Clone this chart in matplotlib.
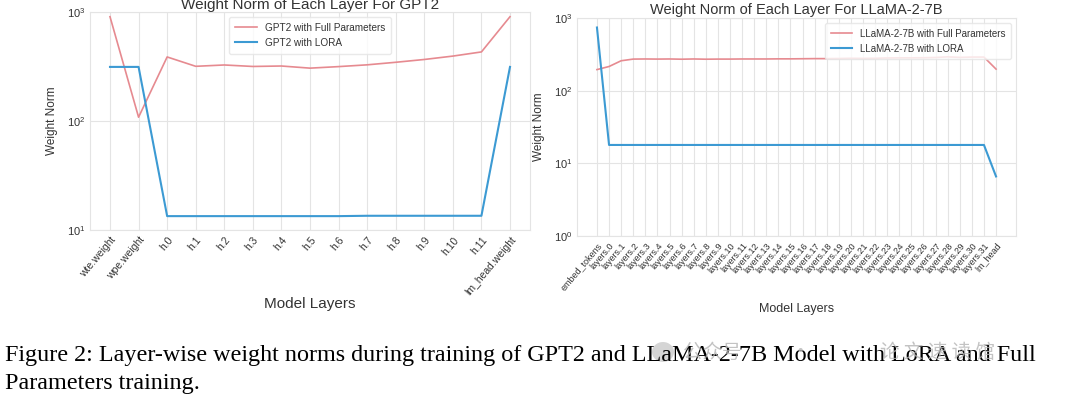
import matplotlib
matplotlib.use("Agg")
import matplotlib.pyplot as plt
from matplotlib.patches import Ellipse

# ---------------- data ----------------
gpt2_layers = ["wte.weight", "wpe.weight", "h.0", "h.1", "h.2", "h.3", "h.4", "h.5",
               "h.6", "h.7", "h.8", "h.9", "h.10", "h.11", "lm_head.weight"]
gpt2_full = [900, 108, 385, 316, 325, 315, 318, 304, 314, 326, 344, 365, 392, 428, 900]
gpt2_lora = [312, 312, 13.4, 13.4, 13.4, 13.4, 13.4, 13.4, 13.4, 13.5, 13.5, 13.5, 13.5, 13.5, 312]

llama_layers = ["embed_tokens"] + [f"layers.{i}" for i in range(32)] + ["lm_head"]
llama_full = [195, 215, 258, 272, 273, 272, 273, 271, 273, 271, 272, 272, 273, 273,
              273, 274, 274, 275, 276, 276, 277, 279, 278, 279, 282, 283, 283, 284,
              286, 292, 287, 290, 290, 198]
llama_lora = [740] + [17.9] * 32 + [6.6]

caption_lines = [
    "Figure 2: Layer-wise weight norms during training of GPT2 and LLaMA-2-7B Model with LoRA and Full",
    "Parameters training.",
]

RED = "#e68a90"
BLUE = "#3c9ad3"
GRID = "#e4e4e4"
TXT = "#333333"

plt.rcParams["font.family"] = ["Liberation Sans", "DejaVu Sans"]
plt.rcParams["mathtext.fontset"] = "custom"
plt.rcParams["mathtext.rm"] = "Liberation Sans"

fig = plt.figure(figsize=(10.74, 3.97), dpi=100)


def style(ax):
    ax.set_facecolor("white")
    for s in ax.spines.values():
        s.set_color(GRID)
        s.set_linewidth(0.8)
    ax.grid(True, which="major", color=GRID, linewidth=0.8)
    ax.grid(False, which="minor")
    ax.tick_params(which="both", length=0, colors=TXT)
    ax.set_axisbelow(True)


# ---------------- left panel ----------------
ax1 = fig.add_axes([90 / 1074, 1 - 230 / 397, 440 / 1074, 218.3 / 397])
x1 = range(len(gpt2_layers))
ax1.plot(x1, gpt2_full, color=RED, lw=1.2, label="GPT2 with Full Parameters")
ax1.plot(x1, gpt2_lora, color=BLUE, lw=1.5, label="GPT2 with LORA")
ax1.set_yscale("log")
ax1.set_ylim(10, 1000)
ax1.set_xticks(list(x1))
ax1.set_xticklabels(gpt2_layers, rotation=50, ha="right", rotation_mode="anchor", fontsize=7.5)
ax1.tick_params(axis="y", labelsize=8)
style(ax1)
ax1.set_title("Weight Norm of Each Layer For GPT2", fontsize=11, color=TXT, pad=2)
ax1.set_xlabel("Model Layers", fontsize=11, color=TXT, labelpad=0)
ax1.set_ylabel("Weight Norm", fontsize=8.5, color=TXT, labelpad=6)
leg1 = ax1.legend(loc="upper center", fontsize=7.2, frameon=True, borderpad=0.6,
                  handlelength=2.2)
leg1.get_frame().set_edgecolor(GRID)
for t in leg1.get_texts():
    t.set_color(TXT)

# ---------------- right panel ----------------
ax2 = fig.add_axes([577 / 1074, 1 - 236 / 397, 439 / 1074, 218 / 397])
x2 = range(len(llama_layers))
ax2.plot(x2, llama_full, color=RED, lw=1.2, label="LLaMA-2-7B with Full Parameters")
ax2.plot(x2, llama_lora, color=BLUE, lw=1.5, label="LLaMA-2-7B with LORA")
ax2.set_yscale("log")
ax2.set_ylim(1, 1000)
ax2.set_xticks(list(x2))
ax2.set_xticklabels(llama_layers, rotation=50, ha="right", rotation_mode="anchor", fontsize=6.5)
ax2.tick_params(axis="y", labelsize=8)
style(ax2)
ax2.set_title("Weight Norm of Each Layer For LLaMA-2-7B", fontsize=10.5, color=TXT, pad=3)
ax2.set_xlabel("Model Layers", fontsize=9, color=TXT, labelpad=8)
ax2.set_ylabel("Weight Norm", fontsize=8.5, color=TXT, labelpad=6)
leg2 = ax2.legend(loc="upper right", fontsize=7, frameon=True, borderpad=0.6,
                  handlelength=2.2)
leg2.get_frame().set_edgecolor(GRID)
for t in leg2.get_texts():
    t.set_color(TXT)

# ---------------- caption ----------------
fig.text(5 / 1074, 1 - 355 / 397, caption_lines[0],
         fontsize=17.4, family="Liberation Serif", color="black", va="center", ha="left")
fig.text(5 / 1074, 1 - 383 / 397, caption_lines[1],
         fontsize=17.4, family="Liberation Serif", color="black", va="center", ha="left")

# faint watermark (drawn over the caption, as in the reference)
fig.patches.append(Ellipse((663 / 1074, 1 - 352 / 397), 22 / 1074, 20 / 397,
                           transform=fig.transFigure, facecolor="#c8c8c8",
                           edgecolor="none", alpha=0.75))
fig.text(683 / 1074, 1 - 352 / 397, "公众号",
         fontsize=14, family=["Noto Sans CJK SC", "DejaVu Sans"], color="#b4b4b4",
         alpha=0.8, va="center", ha="left")
fig.text(800 / 1074, 1 - 352 / 397, "·",
         fontsize=14, family=["Noto Sans CJK SC", "DejaVu Sans"], color="#b4b4b4",
         alpha=0.8, va="center", ha="center")
fig.text(880 / 1074, 1 - 352 / 397, "论 文 速 读 馆",
         fontsize=14, family=["Noto Sans CJK SC", "DejaVu Sans"], color="#b4b4b4",
         alpha=0.8, va="center", ha="left")

fig.savefig("out.png", dpi=100, facecolor="white")
